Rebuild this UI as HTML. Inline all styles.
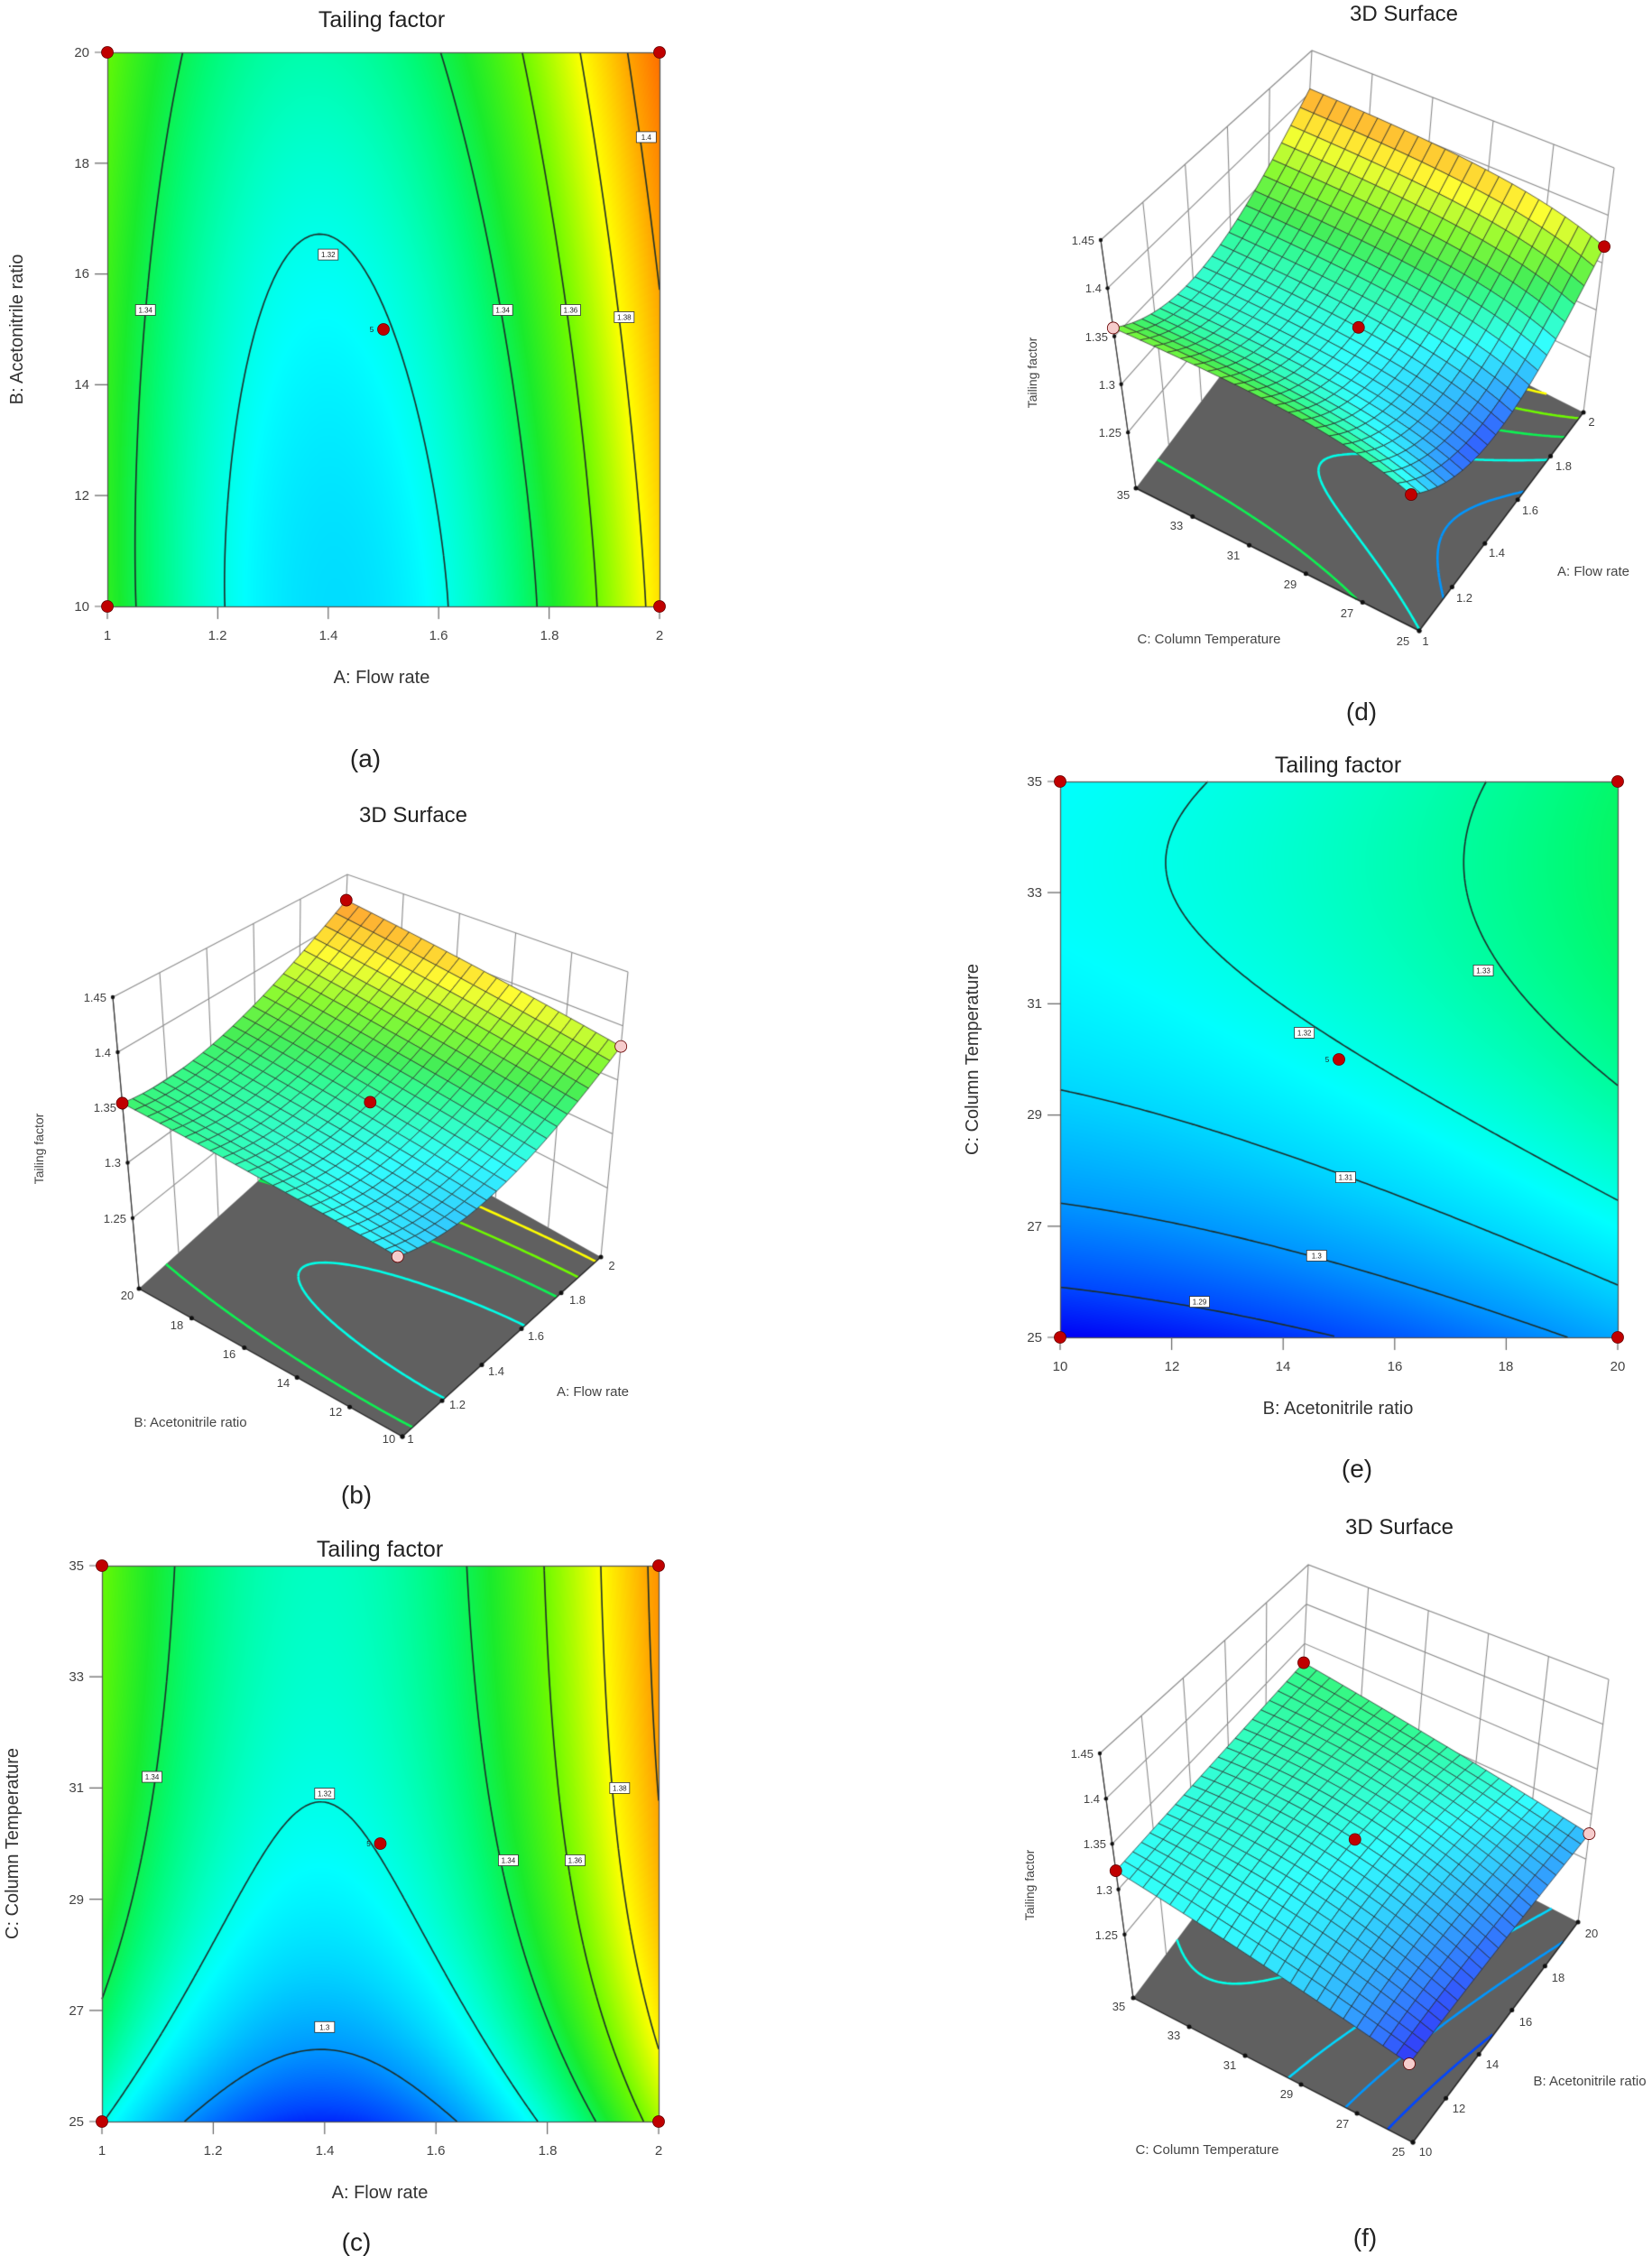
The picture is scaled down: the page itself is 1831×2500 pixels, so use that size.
<!DOCTYPE html>
<html><head><meta charset="utf-8"><style>
body{margin:0;background:#fff;}
#wrap{position:relative;width:1831px;height:2500px;overflow:hidden;background:#fff}
canvas,svg{position:absolute;left:0;top:0}
</style></head><body><div id="wrap">
<canvas id="cv" width="1831" height="2500"></canvas>
<svg id="sv" width="1831" height="2500" viewBox="0 0 1831 2500" font-family="Liberation Sans, Arial, sans-serif">
<g fill="#222" text-anchor="middle">
<text x="423" y="30" font-size="25">Tailing factor</text>
<text x="421" y="1725" font-size="25">Tailing factor</text>
<text x="1483" y="856" font-size="25">Tailing factor</text>
<text x="458" y="911" font-size="24">3D Surface</text>
<text x="1556" y="23" font-size="24">3D Surface</text>
<text x="1551" y="1700" font-size="24">3D Surface</text>
<text x="405" y="850" font-size="28">(a)</text>
<text x="395" y="1666" font-size="28">(b)</text>
<text x="395" y="2494" font-size="28">(c)</text>
<text x="1509" y="798" font-size="28">(d)</text>
<text x="1504" y="1637" font-size="28">(e)</text>
<text x="1513" y="2489" font-size="28">(f)</text>
</g>
<g fill="#333" font-size="20" text-anchor="middle">
<text x="423" y="757">A: Flow rate</text>
<text x="421" y="2436">A: Flow rate</text>
<text x="1483" y="1567">B: Acetonitrile ratio</text>
<text transform="translate(25,365) rotate(-90)">B: Acetonitrile ratio</text>
<text transform="translate(20,2043) rotate(-90)">C: Column Temperature</text>
<text transform="translate(1084,1174) rotate(-90)">C: Column Temperature</text>
</g>
<g fill="#444" font-size="15">
<g text-anchor="end">
<text x="99" y="677">10</text><text x="99" y="554">12</text><text x="99" y="431">14</text><text x="99" y="308">16</text><text x="99" y="186">18</text><text x="99" y="63">20</text>
<text x="93" y="2356">25</text><text x="93" y="2233">27</text><text x="93" y="2110">29</text><text x="93" y="1986">31</text><text x="93" y="1863">33</text><text x="93" y="1740">35</text>
<text x="1155" y="1487">25</text><text x="1155" y="1364">27</text><text x="1155" y="1240">29</text><text x="1155" y="1117">31</text><text x="1155" y="994">33</text><text x="1155" y="871">35</text>
</g>
<g text-anchor="middle">
<text x="119" y="709">1</text><text x="241" y="709">1.2</text><text x="364" y="709">1.4</text><text x="486" y="709">1.6</text><text x="609" y="709">1.8</text><text x="731" y="709">2</text>
<text x="113" y="2388">1</text><text x="236" y="2388">1.2</text><text x="360" y="2388">1.4</text><text x="483" y="2388">1.6</text><text x="607" y="2388">1.8</text><text x="730" y="2388">2</text>
<text x="1175" y="1519">10</text><text x="1299" y="1519">12</text><text x="1422" y="1519">14</text><text x="1546" y="1519">16</text><text x="1669" y="1519">18</text><text x="1793" y="1519">20</text>
</g>
</g>
<g fill="#444" font-size="13" text-anchor="middle">
<text x="141" y="1440">20</text><text x="196" y="1473">18</text><text x="254" y="1505">16</text><text x="314" y="1537">14</text><text x="372" y="1569">12</text><text x="431" y="1599">10</text>
<text x="455" y="1599">1</text><text x="507" y="1561">1.2</text><text x="550" y="1524">1.4</text><text x="594" y="1485">1.6</text><text x="640" y="1445">1.8</text><text x="678" y="1407">2</text>
<text x="1245" y="553">35</text><text x="1304" y="587">33</text><text x="1367" y="620">31</text><text x="1430" y="652">29</text><text x="1493" y="684">27</text><text x="1555" y="715">25</text>
<text x="1580" y="715">1</text><text x="1623" y="667">1.2</text><text x="1659" y="617">1.4</text><text x="1696" y="570">1.6</text><text x="1733" y="521">1.8</text><text x="1764" y="472">2</text>
<text x="1240" y="2228">35</text><text x="1301" y="2260">33</text><text x="1363" y="2293">31</text><text x="1426" y="2325">29</text><text x="1488" y="2358">27</text><text x="1550" y="2389">25</text>
<text x="1580" y="2389">10</text><text x="1617" y="2341">12</text><text x="1654" y="2292">14</text><text x="1691" y="2245">16</text><text x="1727" y="2196">18</text><text x="1764" y="2147">20</text>
</g>
<g fill="#444" font-size="13" text-anchor="end">
<text x="140" y="1355">1.25</text><text x="134" y="1293">1.3</text><text x="129" y="1232">1.35</text><text x="123" y="1171">1.4</text><text x="118" y="1110">1.45</text>
<text x="1243" y="484">1.25</text><text x="1236" y="431">1.3</text><text x="1228" y="378">1.35</text><text x="1221" y="324">1.4</text><text x="1213" y="271">1.45</text>
<text x="1239" y="2149">1.25</text><text x="1233" y="2099">1.3</text><text x="1226" y="2048">1.35</text><text x="1219" y="1998">1.4</text><text x="1212" y="1948">1.45</text>
</g>
<g fill="#444" font-size="15" text-anchor="middle">
<text x="211" y="1581">B: Acetonitrile ratio</text>
<text x="657" y="1547">A: Flow rate</text>
<text x="1340" y="713">C: Column Temperature</text>
<text x="1766" y="638">A: Flow rate</text>
<text x="1338" y="2387">C: Column Temperature</text>
<text x="1762" y="2311">B: Acetonitrile ratio</text>
<text font-size="14" transform="translate(48,1273) rotate(-90)">Tailing factor</text>
<text font-size="14" transform="translate(1149,413) rotate(-90)">Tailing factor</text>
<text font-size="14" transform="translate(1146,2089) rotate(-90)">Tailing factor</text>
</g>
<g id="lbl" font-size="8" text-anchor="middle" fill="#222"></g>
<g id="dots"></g>
</svg>
<script>
var cv=document.getElementById('cv'),ctx=cv.getContext('2d');
var stops=[[1.283,0,0,245],[1.29,0,70,255],[1.30,0,150,255],[1.31,0,215,255],[1.317,0,255,255],[1.325,0,255,195],[1.335,0,250,120],[1.345,25,235,45],[1.36,110,250,0],[1.38,255,255,0],[1.40,255,165,0],[1.43,255,60,0]];
function cmap(z){if(z<=stops[0][0])return stops[0].slice(1);for(var i=1;i<stops.length;i++){if(z<=stops[i][0]){var a=stops[i-1],b=stops[i],f=(z-a[0])/(b[0]-a[0]);return [a[1]+f*(b[1]-a[1]),a[2]+f*(b[2]-a[2]),a[3]+f*(b[3]-a[3])];}}return stops[stops.length-1].slice(1);}
function rgb(c){return 'rgb('+Math.round(c[0])+','+Math.round(c[1])+','+Math.round(c[2])+')';}
function fa(s,t){var zm=1.311+0.017*Math.pow(t,1.6),A0=1.415-0.045*t,A=1+s;return zm+0.22*(A-A0)*(A-A0);}
function fc(s,t){var zm=1.287+0.04*(1-Math.exp(-10*t/3.3)),A=1+s,A0=1.393;return zm+0.217*(A-A0)*(A-A0);}
function fe(s,t){return 1.283+0.082*t-0.048*t*t+0.0083*s+0.0114*s*s;}
function fb(u,v){return 1.318+0.112*(u-0.25)*(u-0.25)+0.029*v+0.011*u*v;}
function contour(f,N,map,levels,style){
 for(var li=0;li<levels.length;li++){var L=levels[li];ctx.beginPath();
  for(var i=0;i<N;i++)for(var j=0;j<N;j++){
   var s0=i/N,s1=(i+1)/N,t0=j/N,t1=(j+1)/N;
   var a=f(s0,t0)-L,b=f(s1,t0)-L,c=f(s1,t1)-L,d=f(s0,t1)-L,p=[];
   if(a*b<0)p.push([s0+(s1-s0)*a/(a-b),t0]);
   if(b*c<0)p.push([s1,t0+(t1-t0)*b/(b-c)]);
   if(c*d<0)p.push([s1+(s0-s1)*c/(c-d),t1]);
   if(d*a<0)p.push([s0,t1+(t0-t1)*d/(d-a)]);
   for(var k=0;k+1<p.length;k+=2){var P=map(p[k][0],p[k][1]),Q=map(p[k+1][0],p[k+1][1]);ctx.moveTo(P[0],P[1]);ctx.lineTo(Q[0],Q[1]);}
  }
  ctx.strokeStyle=style?style(L):'#1c2e2a';ctx.lineWidth=style?2.6:1.6;ctx.stroke();}
}
var svgns='http://www.w3.org/2000/svg';
function dot(x,y,col){var c=document.createElementNS(svgns,'circle');c.setAttribute('cx',x);c.setAttribute('cy',y);c.setAttribute('r',6.5);c.setAttribute('fill',col);c.setAttribute('stroke','#600');c.setAttribute('stroke-width','0.8');document.getElementById('dots').appendChild(c);}
function lab(x,y,t){var g=document.getElementById('lbl');var r=document.createElementNS(svgns,'rect');r.setAttribute('x',x-11);r.setAttribute('y',y-6);r.setAttribute('width',22);r.setAttribute('height',12);r.setAttribute('fill','#fff');r.setAttribute('stroke','#333');r.setAttribute('stroke-width','0.8');g.appendChild(r);var tx=document.createElementNS(svgns,'text');tx.setAttribute('x',x);tx.setAttribute('y',y+3);tx.textContent=t;g.appendChild(tx);}
function plot2D(x0,y0,x1,y1,f,levels,labels){
 var w=x1-x0,h=y1-y0,img=ctx.createImageData(w,h);
 for(var py=0;py<h;py++)for(var px=0;px<w;px++){var c=cmap(f(px/(w-1),1-py/(h-1)));var k=(py*w+px)*4;img.data[k]=c[0];img.data[k+1]=c[1];img.data[k+2]=c[2];img.data[k+3]=255;}
 ctx.putImageData(img,x0,y0);
 contour(f,120,function(s,t){return [x0+s*w,y1-t*h];},levels);
 ctx.strokeStyle='#555';ctx.lineWidth=1.2;ctx.strokeRect(x0+.5,y0+.5,w,h);
 ctx.beginPath();for(var i=0;i<6;i++){var X=x0+i*w/5,Y=y1-i*h/5;ctx.moveTo(X,y1);ctx.lineTo(X,y1+14);ctx.moveTo(x0-14,Y);ctx.lineTo(x0,Y);}ctx.strokeStyle='#666';ctx.lineWidth=1.2;ctx.stroke();
 dot(x0,y0,'#c00000');dot(x1,y0,'#c00000');dot(x0,y1,'#c00000');dot(x1,y1,'#c00000');
 var cx=x0+w/2,cy=y1-h/2;dot(cx,cy,'#c00000');
 var t5=document.createElementNS(svgns,'text');t5.setAttribute('x',cx-13);t5.setAttribute('y',cy+3);t5.setAttribute('font-size','8');t5.setAttribute('fill','#222');t5.textContent='5';document.getElementById('lbl').appendChild(t5);
 for(var i=0;i<labels.length;i++)lab(x0+labels[i][0]*w,y1-labels[i][1]*h,labels[i][2]);
}
plot2D(119,58,731,672,fa,[1.32,1.34,1.36,1.38,1.4],[[.069,.535,'1.34'],[.40,.635,'1.32'],[.716,.535,'1.34'],[.839,.535,'1.36'],[.936,.522,'1.38'],[.976,.847,'1.4']]);
plot2D(113,1735,730,2351,fc,[1.3,1.32,1.34,1.36,1.38,1.4],[[.09,.62,'1.34'],[.4,.59,'1.32'],[.4,.17,'1.3'],[.73,.47,'1.34'],[.85,.47,'1.36'],[.93,.6,'1.38']]);
plot2D(1175,866,1793,1482,fe,[1.29,1.3,1.31,1.32,1.33],[[.25,.064,'1.29'],[.46,.147,'1.3'],[.512,.288,'1.31'],[.438,.548,'1.32'],[.759,.66,'1.33']]);

function bil(c,u,v){return c.F*(1-u)*(1-v)+c.R*u*(1-v)+c.L*(1-u)*v+c.K*u*v;}
function plot3D(g){
 function P(u,v,h){var fx=bil(g.X,u,v),fy=bil(g.Y,u,v),H=bil(g.H,u,v),dx=bil(g.D,u,v);return [fx+h*dx,fy-h*H];}
 var i,k;
 ctx.strokeStyle='#8a8a8a';ctx.lineWidth=1.1;ctx.beginPath();
 for(k=0;k<=5;k++){var u=k/5,a=P(u,1,0),b=P(u,1,1);ctx.moveTo(a[0],a[1]);ctx.lineTo(b[0],b[1]);a=P(1,u,0);b=P(1,u,1);ctx.moveTo(a[0],a[1]);ctx.lineTo(b[0],b[1]);}
 for(k=0;k<g.ticks.length;k++){var h=g.ticks[k];var a=P(0,1,h),b=P(1,1,h),c=P(1,0,h);ctx.moveTo(a[0],a[1]);ctx.lineTo(b[0],b[1]);ctx.lineTo(c[0],c[1]);}
 ctx.stroke();
 ctx.strokeStyle='#333';ctx.lineWidth=1.2;ctx.beginPath();var a=P(0,1,0),b=P(0,1,1);ctx.moveTo(a[0],a[1]);ctx.lineTo(b[0],b[1]);ctx.stroke();
 ctx.fillStyle='#111';for(k=0;k<g.ticks.length;k++){var p=P(0,1,g.ticks[k]);ctx.beginPath();ctx.arc(p[0],p[1],2.2,0,7);ctx.fill();}
 var f0=P(0,0,0),f1=P(1,0,0),f2=P(1,1,0),f3=P(0,1,0);
 ctx.beginPath();ctx.moveTo(f0[0],f0[1]);ctx.lineTo(f1[0],f1[1]);ctx.lineTo(f2[0],f2[1]);ctx.lineTo(f3[0],f3[1]);ctx.closePath();ctx.fillStyle='#606060';ctx.fill();
 contour(g.fz||g.z,80,function(u,v){return P(u,v,0);},g.levels,function(L){return rgb(cmap(L));});
 ctx.strokeStyle='#222';ctx.lineWidth=1.4;ctx.beginPath();ctx.moveTo(f3[0],f3[1]);ctx.lineTo(f0[0],f0[1]);ctx.lineTo(f1[0],f1[1]);ctx.stroke();
 ctx.fillStyle='#111';for(k=0;k<=5;k++){var p=P(0,k/5,0);ctx.beginPath();ctx.arc(p[0],p[1],2.5,0,7);ctx.fill();p=P(k/5,0,0);ctx.beginPath();ctx.arc(p[0],p[1],2.5,0,7);ctx.fill();}
 var N=22,q=[];for(i=0;i<N;i++)for(k=0;k<N;k++)q.push([i,k]);
 q.sort(function(A,B){return (B[0]+B[1])-(A[0]+A[1]);});
 ctx.lineWidth=0.9;ctx.strokeStyle='rgba(40,40,40,0.8)';
 var cz=g.cz||g.z;
 for(var n=0;n<q.length;n++){var u0=q[n][0]/N,v0=q[n][1]/N,u1=u0+1/N,v1=v0+1/N;
  var p1=P(u0,v0,g.h(u0,v0)),p2=P(u1,v0,g.h(u1,v0)),p3=P(u1,v1,g.h(u1,v1)),p4=P(u0,v1,g.h(u0,v1));
  var c=cmap(cz(u0+.5/N,v0+.5/N));c=[c[0]*.8+50,c[1]*.8+50,c[2]*.8+50];
  ctx.beginPath();ctx.moveTo(p1[0],p1[1]);ctx.lineTo(p2[0],p2[1]);ctx.lineTo(p3[0],p3[1]);ctx.lineTo(p4[0],p4[1]);ctx.closePath();ctx.fillStyle=rgb(c);ctx.fill();ctx.stroke();}
 for(k=0;k<g.dots.length;k++){var d=g.dots[k],p=P(d[0],d[1],g.h(d[0],d[1]));dot(p[0],p[1],d[2]);}
}
var R='#c00000',PK='#f6cccc';
plot3D({X:{F:446,R:666,L:154,K:374},Y:{F:1592,R:1393,L:1428,K:1229},H:{F:379,R:316,L:323,K:260},D:{F:-10,R:30,L:-29,K:11},
 z:fb,cz:function(u,v){return fb(u,v)-0.012;},fz:fa,h:function(u,v){return (fb(u,v)-1.186)/0.264;},ticks:[.242,.432,.621,.811,1],levels:[1.32,1.34,1.36,1.38],
 dots:[[0,1,R],[1,1,R],[1,0,PK],[0,0,PK],[.5,.5,R]]});
plot3D({X:{F:1573,R:1755,L:1259,K:1441},Y:{F:699,R:457,L:541,K:299},H:{F:303,R:271,L:275,K:243},D:{F:-18,R:34,L:-39,K:13},
 z:fc,h:function(u,v){return (fc(u,v)-1.192)/0.258;},ticks:[.225,.419,.612,.806,1],levels:[1.3,1.32,1.34,1.36,1.38],
 dots:[[0,1,PK],[1,0,R],[0,0,R],[.5,.5,R]]});
plot3D({X:{F:1566,R:1749,L:1256,K:1439},Y:{F:2374,R:2130,L:2214,K:1970},H:{F:304,R:269,L:271,K:236},D:{F:-14,R:34,L:-37,K:11},
 z:fe,h:function(u,v){return .286+.078*u+.234*v-.058*u*v+1.08*u*(1-u)*v*(1-v);},ticks:[.259,.444,.63,.815,1],levels:[1.29,1.3,1.31,1.32,1.33],
 dots:[[0,1,R],[1,1,R],[1,0,PK],[0,0,PK],[.5,.5,R]]});
</script>
</div></body></html>
